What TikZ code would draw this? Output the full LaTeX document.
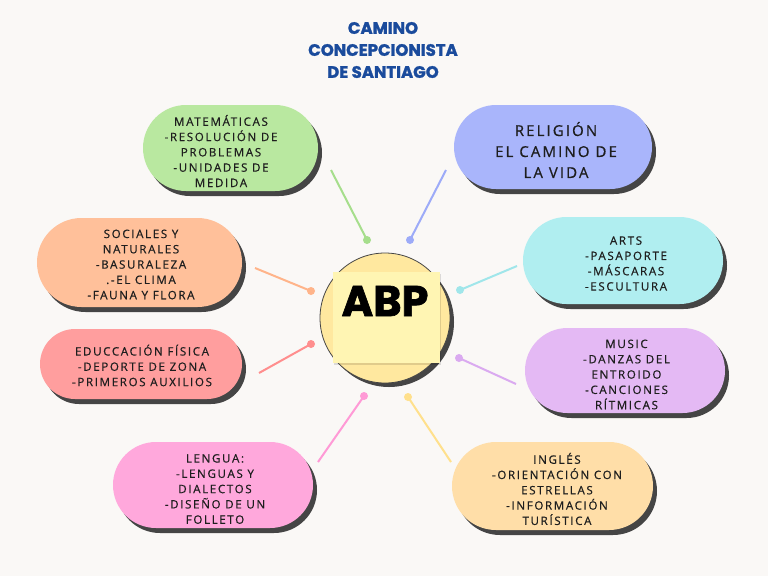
\documentclass[tikz,border=0pt]{standalone}
\usepackage{fontspec}
\newfontfamily\pillfont{Open Sans}[LetterSpace=14, FakeBold=0.6]
\newfontfamily\titlefont{Poppins}[BoldFeatures={FakeBold=1.6}]
\usetikzlibrary{shapes.misc,shadows}
\definecolor{bg}{HTML}{FAF8F6}
\definecolor{shadowgray}{HTML}{454545}
\definecolor{textdark}{HTML}{1E1E1E}
\definecolor{titleblue}{HTML}{1A4B9C}
\definecolor{cgreen}{HTML}{B9E8A0}
\definecolor{lgreen}{HTML}{A6DE8C}
\definecolor{cblue}{HTML}{A9B5FB}
\definecolor{lblue}{HTML}{9DABF8}
\definecolor{cpeach}{HTML}{FFC09A}
\definecolor{lpeach}{HTML}{FFB48A}
\definecolor{ccyan}{HTML}{B0EEF0}
\definecolor{lcyan}{HTML}{A0E6EA}
\definecolor{csalmon}{HTML}{FF9E9E}
\definecolor{lsalmon}{HTML}{FF8E8E}
\definecolor{clav}{HTML}{E4B9F4}
\definecolor{llav}{HTML}{DAAAF0}
\definecolor{cpink}{HTML}{FFA8DC}
\definecolor{lpink}{HTML}{FF9AD6}
\definecolor{corange}{HTML}{FFDEA8}
\definecolor{lorange}{HTML}{FFE08C}
\definecolor{ccircle}{HTML}{FFE89F}
\definecolor{csticky}{HTML}{FFF5B3}
\tikzset{
  pill/.style={shape=rounded rectangle, draw=none, inner sep=0pt,
    drop shadow={shadow xshift=4pt, shadow yshift=-5pt, fill=shadowgray, opacity=1}},
  pilltext/.style={align=center, inner sep=0pt,
    font=\pillfont\fontsize{11.6}{15.3}\selectfont, text=textdark},
  dotnode/.style={circle, inner sep=0pt, minimum size=8pt},
  conn/.style={line width=2pt}
}
\begin{document}
\begin{tikzpicture}[x=1pt,y=-1pt]
\useasboundingbox[fill=bg] (0,0) rectangle (768,576);

% title
\node[font=\titlefont\bfseries\fontsize{16.5}{22}\selectfont, text=titleblue, align=center] (title) at (383,50) {CAMINO\\CONCEPCIONISTA\\DE SANTIAGO};

% connectors
\coordinate (eA) at (331,170);
\coordinate (eB) at (446,170);
\coordinate (eC) at (255,268);
\coordinate (eD) at (517,266);
\coordinate (eE) at (259,373);
\coordinate (eF) at (516,384);
\coordinate (eG) at (318,462);
\coordinate (eH) at (451,462);
\node[dotnode, fill=lgreen] (dA) at (367,240) {};
\node[dotnode, fill=lblue] (dB) at (410,240) {};
\node[dotnode, fill=lpeach] (dC) at (311,291) {};
\node[dotnode, fill=lcyan] (dD) at (460,290) {};
\node[dotnode, fill=lsalmon] (dE) at (311,344) {};
\node[dotnode, fill=llav] (dF) at (459,358) {};
\node[dotnode, fill=lpink] (dG) at (364,396) {};
\node[dotnode, fill=lorange] (dH) at (408,397) {};
\draw[conn, lgreen] (eA) -- (dA.center);
\draw[conn, lblue] (eB) -- (dB.center);
\draw[conn, lpeach] (eC) -- (dC.center);
\draw[conn, lcyan] (eD) -- (dD.center);
\draw[conn, lsalmon] (eE) -- (dE.center);
\draw[conn, llav] (eF) -- (dF.center);
\draw[conn, lpink] (eG) -- (dG.center);
\draw[conn, lorange] (eH) -- (dH.center);

% pills
\node[pill, fill=cgreen, minimum width=175pt, minimum height=86pt] (mat) at (230.5,148) {};
\node[pilltext] (matT) at (221,151) {MATEMÁTICAS\\-RESOLUCIÓN DE\\PROBLEMAS\\-UNIDADES DE\\MEDIDA};
\node[pill, fill=cblue, minimum width=198pt, minimum height=84pt] (rel) at (553,147) {};
\node[pilltext, font=\pillfont\fontsize{15}{21}\selectfont] (relT) at (556,150) {RELIGIÓN\\EL CAMINO DE\\LA VIDA};
\node[pill, fill=cpeach, minimum width=205pt, minimum height=89pt] (soc) at (139.5,262.5) {};
\node[pilltext] (socT) at (141,264.5) {SOCIALES Y\\NATURALES\\-BASURALEZA\\.-EL CLIMA\\-FAUNA Y FLORA};
\node[pill, fill=ccyan, minimum width=200pt, minimum height=87pt] (arts) at (623,260.5) {};
\node[pilltext] (artsT) at (626,263.5) {ARTS\\-PASAPORTE\\-MÁSCARAS\\-ESCULTURA};
\node[pill, fill=csalmon, minimum width=202pt, minimum height=70pt] (edu) at (141,364) {};
\node[pilltext] (eduT) at (142,365.5) {EDUCCACIÓN FÍSICA\\-DEPORTE DE ZONA\\-PRIMEROS AUXILIOS};
\node[pill, fill=clav, minimum width=200pt, minimum height=85pt] (mus) at (625,370.5) {};
\node[pilltext] (musT) at (626.5,374.5) {MUSIC\\-DANZAS DEL\\ENTROIDO\\-CANCIONES\\RÍTMICAS};
\node[pill, fill=cpink, minimum width=200pt, minimum height=86pt] (len) at (213,485) {};
\node[pilltext] (lenT) at (215,489) {LENGUA:\\-LENGUAS Y\\DIALECTOS\\-DISEÑO DE UN\\FOLLETO};
\node[pill, fill=corange, minimum width=201pt, minimum height=88pt] (ing) at (552.5,486) {};
\node[pilltext] (ingT) at (557,489) {INGLÉS\\-ORIENTACIÓN CON\\ESTRELLAS\\-INFORMACIÓN\\TURÍSTICA};

% centre
\node[circle, fill=ccircle, draw=shadowgray, line width=0.8pt, minimum size=130pt, inner sep=0pt,
  drop shadow={shadow xshift=4pt, shadow yshift=-4pt, fill=shadowgray, opacity=1}] (hub) at (385,318) {};
\node[rectangle, fill=csticky, minimum width=107pt, minimum height=91pt, inner sep=0pt,
  drop shadow={shadow xshift=1pt, shadow yshift=-2pt, fill=black, opacity=0.12}] (note) at (386.5,317.5) {};
\node[font=\titlefont\bfseries\fontsize{43}{43}\selectfont, text=black] (abp) at (385,301) {ABP};
\end{tikzpicture}
\end{document}
